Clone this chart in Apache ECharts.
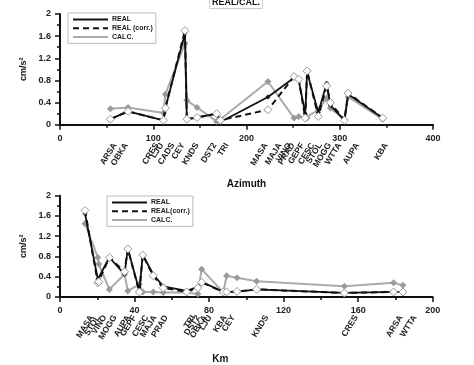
<!DOCTYPE html>
<html><head><meta charset="utf-8">
<script src="https://cdn.jsdelivr.net/npm/echarts@6/dist/echarts.min.js"></script>
<style>html,body{margin:0;padding:0;background:#fff}#c{width:474px;height:365px}</style>
</head><body><div id="c"></div>
<script>
// ---- Top panel: vs Azimuth ----
const azStations = ['ARSA','OBKA','CRES','LJU','CADS','CEY','KNDS','DST2','TRI','MASA','MAJA','VINO','PRAD','GEPF','CESC','STOL','MOGG','WTTA','AUPA','KBA'];
const azX        = [54, 73, 111, 113, 134, 136, 147, 168, 172, 223, 251, 256, 263, 265, 277, 286, 290, 305, 309, 346];
const azReal     = [0.10,0.24,0.08,0.30,1.65,0.10,0.13,0.20,0.05,0.50,0.85,0.80,0.20,0.95,0.22,0.75,0.35,0.08,0.55,0.12];
const azCorr     = [0.10,0.24,0.08,0.30,1.70,0.10,0.13,0.20,0.08,0.27,0.87,0.82,0.12,0.97,0.15,0.70,0.40,0.08,0.57,0.12];
const azCalc     = [0.29,0.31,0.21,0.55,1.47,0.44,0.31,0.06,0.10,0.78,0.12,0.15,0.12,0.12,0.27,0.48,0.30,0.10,0.50,0.10];
const azLabelPos = [59, 71, 104, 109, 121, 132, 147, 166, 179, 221, 236, 246, 250, 260, 271, 279, 289, 300, 319, 350];
// ---- Bottom panel: vs distance (Km) ----
const kmStations = ['CADS','MASA','STOL','VINO','MOGG','AUPA','GEPF','CESC','MAJA','PRAD','TRI','DST2','OBKA','LJU','KBA','CEY','KNDS','CRES','ARSA','WTTA'];
const kmX        = [13.4, 20.3, 20.8, 26.5, 34.6, 36.4, 42.6, 44.4, 50, 55.4, 68, 74, 76, 87.6, 89.4, 95, 105.5, 152.6, 179, 184];
const kmReal     = [1.65,0.35,0.35,0.78,0.45,0.95,0.12,0.83,0.45,0.21,0.12,0.20,0.30,0.10,0.10,0.10,0.15,0.08,0.10,0.10];
const kmCorr     = [1.71,0.28,0.30,0.78,0.50,0.95,0.10,0.83,0.42,0.18,0.10,0.18,0.29,0.10,0.10,0.11,0.15,0.08,0.10,0.10];
const kmCalc     = [1.45,0.78,0.65,0.15,0.45,0.12,0.25,0.10,0.10,0.09,0.09,0.06,0.55,0.09,0.42,0.38,0.31,0.21,0.28,0.23];
const kmLabelPos = [13.4, 17, 20.6, 24, 29.5, 36.7, 40, 46.5, 51, 57, 71.5, 74, 78, 80.5, 88.5, 93, 111, 159, 183, 190.5];
const yTicks = [0, 0.4, 0.8, 1.2, 1.6, 2];

const pair = (xs, ys) => xs.map((x, i) => [x, ys[i]]);
const FONT = 'Liberation Sans';
const tickFont = {fontFamily: FONT, fontSize: 9, fontWeight: 'bold', color: '#222'};

function numX(gi, max, interval, name, nameGap, namePad) {
  return {
    type: 'value', gridIndex: gi, min: 0, max: max, interval: interval, position: 'bottom',
    name: name, nameLocation: 'middle', nameGap: nameGap,
    nameTextStyle: {fontFamily: FONT, fontSize: 10, fontWeight: 'bold', color: '#111', padding: namePad},
    axisLine: {onZero: false, lineStyle: {color: '#111', width: 2}},
    axisTick: {length: 5, lineStyle: {color: '#111', width: 1.5}},
    minorTick: {show: true, splitNumber: 2, length: 3, lineStyle: {color: '#111', width: 1.5}},
    splitLine: {show: false},
    axisLabel: Object.assign({margin: 9}, tickFont)
  };
}
function stationX(gi, max, pos, names) {
  return {
    type: 'value', gridIndex: gi, min: 0, max: max, position: 'bottom',
    axisLine: {show: false}, axisTick: {show: false}, splitLine: {show: false},
    axisLabel: Object.assign({
      customValues: pos, rotate: 58, margin: 19, hideOverlap: false,
      formatter: v => names[pos.indexOf(v)]
    }, tickFont, {fontSize: 8.5})
  };
}
function yAx(gi, nameGap) {
  return {
    type: 'value', gridIndex: gi, min: 0, max: 2, interval: 0.4,
    name: 'cm/s²', nameLocation: 'middle', nameGap: nameGap, nameRotate: 90,
    nameTextStyle: {fontFamily: FONT, fontSize: 9, fontWeight: 'bold', color: '#111'},
    axisLine: {show: true, lineStyle: {color: '#111', width: 2}},
    axisTick: {show: true, length: 5, lineStyle: {color: '#111', width: 1.5}},
    minorTick: {show: true, splitNumber: 2, length: 3, lineStyle: {color: '#111', width: 1.5}},
    splitLine: {show: false},
    axisLabel: Object.assign({margin: 9, formatter: v => String(+v.toFixed(1))}, tickFont)
  };
}
function seriesSet(xi, yi, xs, real, corr, calc, corrName) {
  return [
    {name: 'CALC.', type: 'line', xAxisIndex: xi, yAxisIndex: yi, data: pair(xs, calc),
     symbol: 'diamond', symbolSize: 7, itemStyle: {color: '#9a9a9a'},
     lineStyle: {color: '#aaaaaa', width: 2}, z: 2, animation: false},
    {name: 'REAL', type: 'line', xAxisIndex: xi, yAxisIndex: yi, data: pair(xs, real),
     symbol: 'diamond', symbolSize: 5, itemStyle: {color: '#111'},
     lineStyle: {color: '#111', width: 1.8}, z: 3, animation: false},
    {name: corrName, type: 'line', xAxisIndex: xi, yAxisIndex: yi, data: pair(xs, corr),
     symbol: 'diamond', symbolSize: 8, itemStyle: {color: '#fff', borderColor: '#999', borderWidth: 1},
     lineStyle: {color: '#111', width: 2, type: [6, 4]}, z: 4, animation: false}
  ];
}
function legendAt(left, top, names) {
  return {
    left: left, top: top, orient: 'vertical', itemWidth: 35, itemHeight: 8, itemGap: 1,
    padding: [3, 3, 3, 4], borderColor: '#bbb', borderWidth: 1, backgroundColor: '#fff',
    itemStyle: {opacity: 0}, data: names, selectedMode: false,
    textStyle: {fontFamily: FONT, fontSize: 7, fontWeight: 'bold', color: '#222', padding: [0, 0, 0, -1]}
  };
}

const chart = echarts.init(document.getElementById('c'), null, {renderer: 'canvas'});
chart.setOption({
  backgroundColor: '#fff',
  animation: false,
  title: {text: 'REAL/CAL.', left: 209, top: -5, padding: [3, 3, 2, 3], borderColor: '#ccc', borderWidth: 1,
          textStyle: {fontFamily: FONT, fontSize: 9, fontWeight: 'bold', color: '#111'}},
  grid: [
    {left: 60, right: 41, top: 14, height: 110.7},
    {left: 60, right: 41.3, top: 195.7, height: 111}
  ],
  xAxis: [
    numX(0, 400, 100, 'Azimuth', 55, [0, 0, 0, 0]),
    numX(1, 200, 40, 'Km', 57, [0, 52, 0, 0]),
    stationX(0, 400, azLabelPos, azStations),
    stationX(1, 200, kmLabelPos, kmStations)
  ],
  yAxis: [yAx(0, 28), yAx(1, 22)],
  legend: [
    legendAt(68, 13, ['REAL', 'REAL (corr.)', 'CALC.']),
    legendAt(107, 196, ['REAL', 'REAL(corr.)', 'CALC.'])
  ],
  series: [].concat(
    seriesSet(0, 0, azX, azReal, azCorr, azCalc, 'REAL (corr.)'),
    seriesSet(1, 1, kmX, kmReal, kmCorr, kmCalc, 'REAL(corr.)')
  )
});
</script>
</body></html>
